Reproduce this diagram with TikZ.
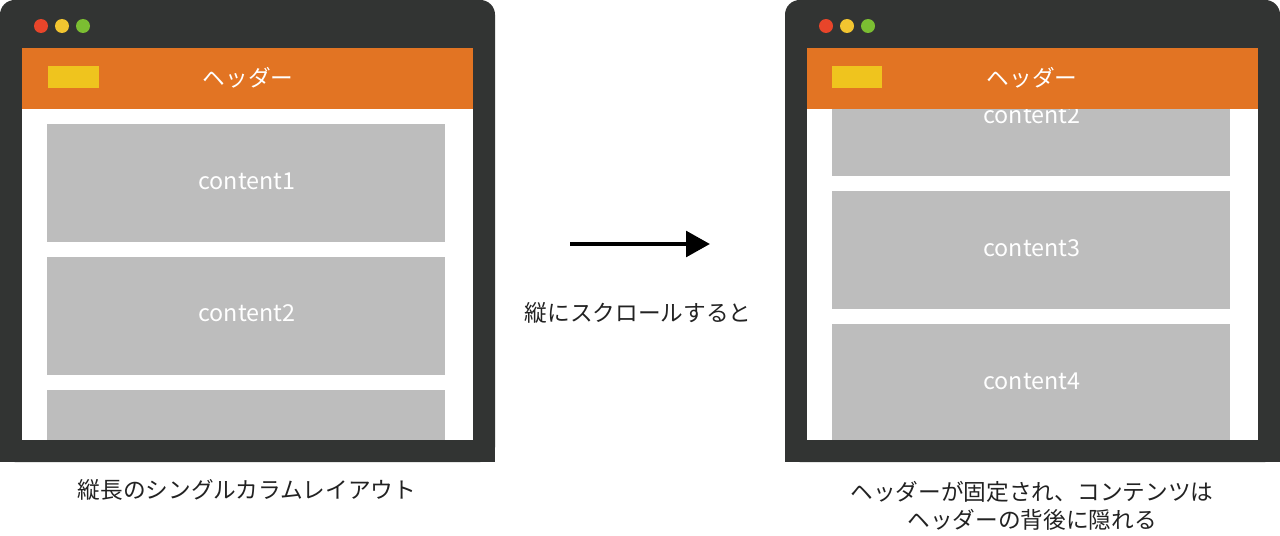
\documentclass[tikz,border=0pt]{standalone}
\usepackage{fontspec}
\setmainfont{Noto Sans CJK JP}
\usetikzlibrary{arrows.meta}
\definecolor{frame}{HTML}{323433}
\definecolor{hdr}{HTML}{E27423}
\definecolor{logo}{HTML}{EFC41E}
\definecolor{box}{HTML}{BDBDBD}
\definecolor{tlred}{HTML}{E8452A}
\definecolor{tlyel}{HTML}{F2C530}
\definecolor{tlgrn}{HTML}{7BBE32}
\definecolor{txt}{HTML}{222222}
\tikzset{
  winframe/.style={fill=frame, draw=none},
  hdrbar/.style={fill=hdr, draw=none},
  logobox/.style={fill=logo, draw=none},
  whitearea/.style={fill=white, draw=none},
  cbox/.style={fill=box, draw=none},
  clabel/.style={text=white, font=\fontsize{17.5}{21}\selectfont, inner sep=0pt},
  hlabel/.style={text=white, font=\fontsize{17}{21}\selectfont, inner sep=0pt},
  caption/.style={text=txt, font=\fontsize{17}{21}\selectfont, inner sep=0pt, align=center},
  light/.style={circle, inner sep=0pt, minimum size=10.5pt, draw=none},
}
\begin{document}
\begin{tikzpicture}[x=0.75pt, y=-0.75pt]
\useasboundingbox (0,0) rectangle (1280,535);
% ---------- left window ----------
\fill[winframe, rounded corners=11pt] (0,462) -- (0,0) -- (495,0) -- (495,462) -- cycle;
\fill[winframe] (0,430) rectangle (495,462);
\node[light, fill=tlred] (l1) at (41,26) {};
\node[light, fill=tlyel] (l2) at (62,26) {};
\node[light, fill=tlgrn] (l3) at (83,26) {};
\fill[whitearea] (22,109) rectangle (473,440);
\fill[cbox] (47,124) rectangle (445,242);
\node[clabel] (c1) at (247,181) {content1};
\fill[cbox] (47,257) rectangle (445,375);
\node[clabel] (c2) at (247,313) {content2};
\fill[cbox] (47,390) rectangle (445,440);
\fill[hdrbar] (22,48) rectangle (473,109);
\fill[logobox] (48,66) rectangle (99,88);
\node[hlabel] (h1) at (248,78) {ヘッダー};
\node[caption] (cap1) at (247,490) {縦長のシングルカラムレイアウト};
% ---------- right window ----------
\fill[winframe, rounded corners=11pt] (785,462) -- (785,0) -- (1280,0) -- (1280,462) -- cycle;
\fill[winframe] (785,430) rectangle (1280,462);
\node[light, fill=tlred] (r1) at (826,26) {};
\node[light, fill=tlyel] (r2) at (847,26) {};
\node[light, fill=tlgrn] (r3) at (868,26) {};
\fill[whitearea] (807,109) rectangle (1258,440);
\fill[cbox] (832,100) rectangle (1230,176);
\node[clabel] (rc2) at (1032,115) {content2};
\fill[cbox] (832,191) rectangle (1230,309);
\node[clabel] (rc3) at (1032,248) {content3};
\fill[cbox] (832,324) rectangle (1230,440);
\node[clabel] (rc4) at (1032,381) {content4};
\fill[hdrbar] (807,48) rectangle (1258,109);
\fill[logobox] (832,66) rectangle (882,88);
\node[hlabel] (h2) at (1032,78) {ヘッダー};
\node[caption] (cap2) at (1032,506) {ヘッダーが固定され、コンテンツは\\ヘッダーの背後に隠れる};
% ---------- arrow ----------
\coordinate (as) at (570,244);
\coordinate (ae) at (710,244);
\draw[line width=3.6pt, -{Triangle[length=18pt, width=19pt]}] (as) -- (ae);
\node[caption] (mid) at (638,313) {縦にスクロールすると};
\end{tikzpicture}
\end{document}
